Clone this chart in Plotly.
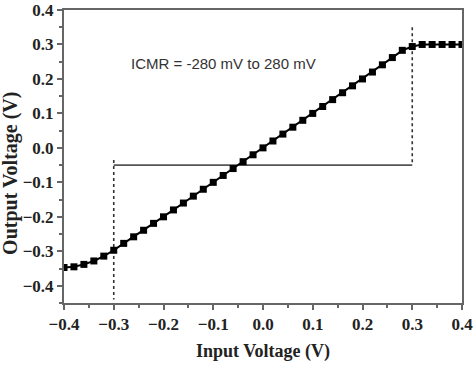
import plotly.graph_objects as go

# Data
input_v = [-0.40, -0.38, -0.36, -0.34, -0.32, -0.30, -0.28, -0.26, -0.24, -0.22,
           -0.20, -0.18, -0.16, -0.14, -0.12, -0.10, -0.08, -0.06, -0.04, -0.02,
           0.00, 0.02, 0.04, 0.06, 0.08, 0.10, 0.12, 0.14, 0.16, 0.18,
           0.20, 0.22, 0.24, 0.26, 0.28, 0.30, 0.32, 0.34, 0.36, 0.38, 0.40]
output_v = [-0.347, -0.345, -0.338, -0.328, -0.314, -0.297, -0.277, -0.258, -0.239, -0.219,
            -0.200, -0.180, -0.160, -0.140, -0.120, -0.100, -0.080, -0.060, -0.040, -0.020,
            0.000, 0.020, 0.040, 0.060, 0.080, 0.100, 0.120, 0.140, 0.160, 0.180,
            0.200, 0.220, 0.241, 0.262, 0.283, 0.294, 0.300, 0.300, 0.300, 0.300, 0.300]

icmr_x = [-0.30, 0.30]
ref_level = [-0.05, -0.05]
left_marker_x = [-0.30, -0.30]
left_marker_y = [-0.035, -0.44]
right_marker_x = [0.30, 0.30]
right_marker_y = [0.35, -0.05]

x_ticks = [-0.4, -0.3, -0.2, -0.1, 0.0, 0.1, 0.2, 0.3, 0.4]
y_ticks = [-0.4, -0.3, -0.2, -0.1, 0.0, 0.1, 0.2, 0.3, 0.4]
annotation_text = "ICMR = -280 mV to 280 mV"
x_title = "Input Voltage (V)"
y_title = "Output Voltage (V)"

fig = go.Figure()

fig.add_trace(go.Scatter(x=icmr_x, y=ref_level, mode="lines",
                         line=dict(color="#555555", width=1.6), hoverinfo="skip"))
fig.add_trace(go.Scatter(x=left_marker_x, y=left_marker_y, mode="lines",
                         line=dict(color="#333333", width=1.6, dash="dot"), hoverinfo="skip"))
fig.add_trace(go.Scatter(x=right_marker_x, y=right_marker_y, mode="lines",
                         line=dict(color="#333333", width=1.6, dash="dot"), hoverinfo="skip"))
fig.add_trace(go.Scatter(x=input_v, y=output_v, mode="lines+markers",
                         line=dict(color="black", width=2),
                         marker=dict(symbol="square", size=7, color="black")))

fig.add_annotation(x=-0.08, y=0.245, text=annotation_text, showarrow=False,
                   font=dict(family="Liberation Sans, Arial", size=15, color="#333333"))

serif = "Liberation Serif, Times New Roman"
axis_font = dict(family=serif, size=17, color="#222222", weight="bold")

# axis titles as annotations for exact placement
fig.add_annotation(xref="paper", yref="paper", x=0.5, y=-0.165, yanchor="middle",
                   text=x_title, showarrow=False,
                   font=dict(family=serif, size=18, color="#222222", weight="bold"))
fig.add_annotation(xref="paper", y=-0.073, x=-0.136, xanchor="center", yanchor="middle",
                   text=y_title, showarrow=False, textangle=-90,
                   font=dict(family=serif, size=20, color="#222222", weight="bold"))

fig.update_xaxes(range=[-0.4, 0.4], tickvals=x_ticks, tickformat=".1f",
                 showline=True, linecolor="#666666", linewidth=2, mirror=True,
                 ticks="outside", ticklen=5, tickwidth=1.5, tickcolor="#666666",
                 minor=dict(ticks="outside", ticklen=3, dtick=0.05, tickcolor="#666666", tickwidth=1.5),
                 showgrid=False, zeroline=False, automargin=False,
                 ticklabeloverflow="allow", tickfont=axis_font)
fig.update_yaxes(range=[-0.45, 0.4], tickvals=y_ticks, tickformat=".1f",
                 showline=True, linecolor="#666666", linewidth=2, mirror=True,
                 ticks="outside", ticklen=5, tickwidth=1.5, tickcolor="#666666",
                 minor=dict(ticks="outside", ticklen=3, dtick=0.05, tickcolor="#666666", tickwidth=1.5),
                 showgrid=False, zeroline=False, automargin=False,
                 ticklabeloverflow="allow", tickfont=axis_font)

fig.update_layout(width=474, height=375, showlegend=False,
                  margin=dict(l=64, r=12, t=10, b=72),
                  plot_bgcolor="white", paper_bgcolor="white")

fig.write_html("out.html",
               config={"displayModeBar": False},
               post_script="document.body.style.margin='0';document.body.style.overflow='hidden';")
